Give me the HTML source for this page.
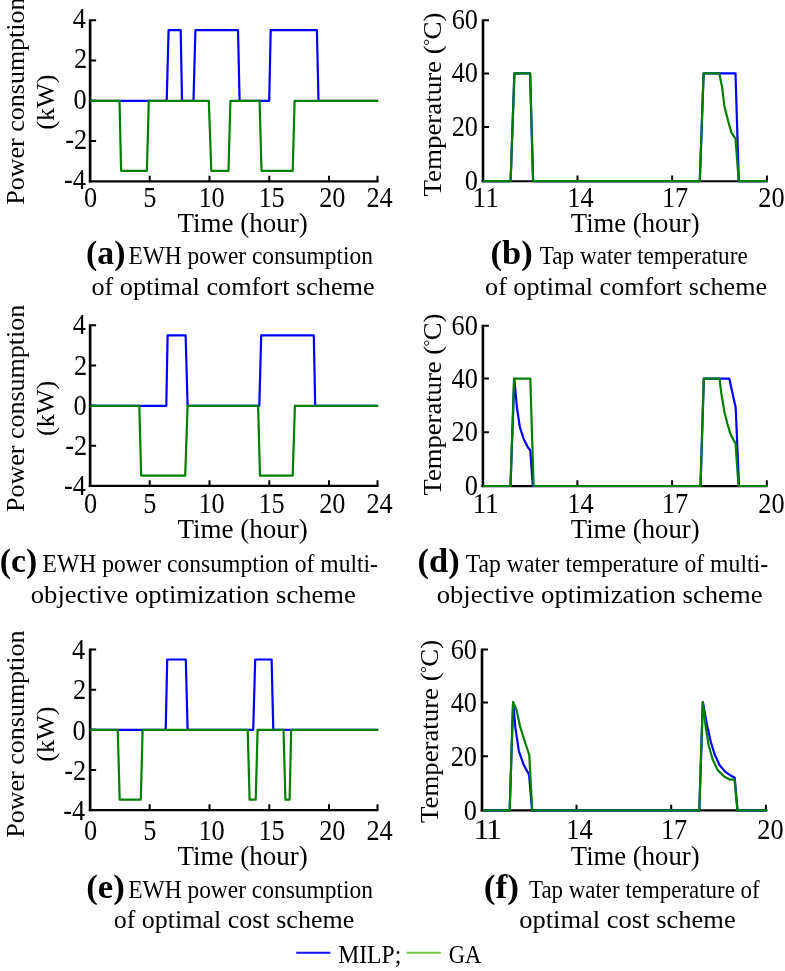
<!DOCTYPE html>
<html><head><meta charset="utf-8"><title>EWH scheduling results</title>
<style>
html,body{margin:0;padding:0;background:#fff;}
body{width:785px;height:971px;overflow:hidden;}
svg{display:block;}
svg text{font-family:"Liberation Serif","DejaVu Serif",serif;fill:#000;}
</style></head><body>
<svg width="785" height="971" viewBox="0 0 785 971">
<rect width="785" height="971" fill="#fff"/>
<path d="M90.1,19.30 V182.45" fill="none" stroke="#000" stroke-width="2.6"/>
<path d="M88.80,181.4 H378.50" fill="none" stroke="#000" stroke-width="2.1"/>
<path d="M149.7,181.4 v-5.75 M209.5,181.4 v-5.75 M269.3,181.4 v-5.75 M329.0,181.4 v-5.75 M377.5,181.4 v-5.75 M90.1,20.3 h6.00 M90.1,60.5 h6.00 M90.1,100.7 h6.00 M90.1,141.0 h6.00 " fill="none" stroke="#000" stroke-width="2.0"/>
<path d="M90.0,100.8 L166.7,100.8 L168.6,30.1 L180.7,30.1 L182.0,100.8 L193.5,100.8 L195.4,30.1 L238.0,30.1 L239.6,100.8 L269.2,100.8 L270.7,30.1 L316.9,30.1 L318.5,100.8 L377.6,100.8" fill="none" stroke="#0000ff" stroke-width="2.2" stroke-linejoin="round"/>
<path d="M90.0,100.8 L119.5,100.8 L121.1,170.8 L146.9,170.8 L148.8,100.8 L208.8,100.8 L211.3,170.8 L228.5,170.8 L230.4,100.8 L259.6,100.8 L261.5,170.8 L292.7,170.8 L294.6,100.8 L378.3,100.8" fill="none" stroke="#008000" stroke-width="2.2" stroke-linejoin="round"/>
<text x="72.86" y="28.20" font-size="28.6" textLength="13.16" lengthAdjust="spacingAndGlyphs">4</text>
<text x="73.90" y="68.40" font-size="28.6" textLength="13.16" lengthAdjust="spacingAndGlyphs">2</text>
<text x="73.45" y="108.60" font-size="28.6" textLength="13.16" lengthAdjust="spacingAndGlyphs">0</text>
<text x="65.13" y="148.90" font-size="28.6" textLength="21.92" lengthAdjust="spacingAndGlyphs">-2</text>
<text x="64.09" y="189.30" font-size="28.6" textLength="21.92" lengthAdjust="spacingAndGlyphs">-4</text>
<text x="84.02" y="206.80" font-size="28.6" textLength="13.16" lengthAdjust="spacingAndGlyphs">0</text>
<text x="143.17" y="206.80" font-size="28.6" textLength="13.16" lengthAdjust="spacingAndGlyphs">5</text>
<text x="198.44" y="206.80" font-size="28.6" textLength="26.31" lengthAdjust="spacingAndGlyphs">10</text>
<text x="258.40" y="206.80" font-size="28.6" textLength="26.31" lengthAdjust="spacingAndGlyphs">15</text>
<text x="319.22" y="206.80" font-size="28.6" textLength="26.31" lengthAdjust="spacingAndGlyphs">20</text>
<text x="366.42" y="206.80" font-size="28.6" textLength="26.31" lengthAdjust="spacingAndGlyphs">24</text>
<text x="177.52" y="231.90" font-size="27" textLength="130.26" lengthAdjust="spacingAndGlyphs">Time (hour)</text>
<path d="M90.1,324.30 V486.95" fill="none" stroke="#000" stroke-width="2.6"/>
<path d="M88.80,485.9 H378.50" fill="none" stroke="#000" stroke-width="2.1"/>
<path d="M149.7,485.9 v-5.75 M209.5,485.9 v-5.75 M269.3,485.9 v-5.75 M329.0,485.9 v-5.75 M377.5,485.9 v-5.75 M90.1,325.3 h6.00 M90.1,365.5 h6.00 M90.1,405.7 h6.00 M90.1,445.8 h6.00 " fill="none" stroke="#000" stroke-width="2.0"/>
<path d="M90.0,405.8 L166.3,405.8 L167.6,335.3 L185.6,335.3 L187.6,405.8 L259.3,405.8 L261.2,335.3 L313.8,335.3 L315.2,405.8 L377.6,405.8" fill="none" stroke="#0000ff" stroke-width="2.2" stroke-linejoin="round"/>
<path d="M90.0,405.8 L139.3,405.8 L141.2,475.6 L185.2,475.6 L187.6,405.8 L258.1,405.8 L260.0,475.6 L292.7,475.6 L294.9,405.8 L378.3,405.8" fill="none" stroke="#008000" stroke-width="2.2" stroke-linejoin="round"/>
<text x="72.86" y="334.30" font-size="28.6" textLength="13.16" lengthAdjust="spacingAndGlyphs">4</text>
<text x="73.90" y="374.50" font-size="28.6" textLength="13.16" lengthAdjust="spacingAndGlyphs">2</text>
<text x="73.45" y="414.70" font-size="28.6" textLength="13.16" lengthAdjust="spacingAndGlyphs">0</text>
<text x="65.13" y="454.80" font-size="28.6" textLength="21.92" lengthAdjust="spacingAndGlyphs">-2</text>
<text x="64.09" y="494.90" font-size="28.6" textLength="21.92" lengthAdjust="spacingAndGlyphs">-4</text>
<text x="84.02" y="512.80" font-size="28.6" textLength="13.16" lengthAdjust="spacingAndGlyphs">0</text>
<text x="143.17" y="512.80" font-size="28.6" textLength="13.16" lengthAdjust="spacingAndGlyphs">5</text>
<text x="198.44" y="512.80" font-size="28.6" textLength="26.31" lengthAdjust="spacingAndGlyphs">10</text>
<text x="258.40" y="512.80" font-size="28.6" textLength="26.31" lengthAdjust="spacingAndGlyphs">15</text>
<text x="319.22" y="512.80" font-size="28.6" textLength="26.31" lengthAdjust="spacingAndGlyphs">20</text>
<text x="366.42" y="512.80" font-size="28.6" textLength="26.31" lengthAdjust="spacingAndGlyphs">24</text>
<text x="177.52" y="538.20" font-size="27" textLength="130.26" lengthAdjust="spacingAndGlyphs">Time (hour)</text>
<path d="M90.1,648.60 V811.15" fill="none" stroke="#000" stroke-width="2.6"/>
<path d="M88.80,810.1 H378.50" fill="none" stroke="#000" stroke-width="2.1"/>
<path d="M149.7,810.1 v-5.75 M209.5,810.1 v-5.75 M269.3,810.1 v-5.75 M329.0,810.1 v-5.75 M377.5,810.1 v-5.75 M90.1,649.6 h6.00 M90.1,689.7 h6.00 M90.1,729.8 h6.00 M90.1,770.0 h6.00 " fill="none" stroke="#000" stroke-width="2.0"/>
<path d="M90.0,729.9 L165.7,729.9 L167.2,659.5 L185.8,659.5 L187.6,729.9 L253.2,729.9 L255.2,659.5 L271.6,659.5 L273.3,729.9 L377.6,729.9" fill="none" stroke="#0000ff" stroke-width="2.2" stroke-linejoin="round"/>
<path d="M90.0,729.9 L117.7,729.9 L119.7,799.6 L140.8,799.6 L142.6,729.9 L247.7,729.9 L249.6,799.6 L255.7,799.6 L257.6,729.9 L283.5,729.9 L285.4,799.6 L289.6,799.6 L291.2,729.9 L378.3,729.9" fill="none" stroke="#008000" stroke-width="2.2" stroke-linejoin="round"/>
<text x="71.96" y="659.30" font-size="28.6" textLength="13.16" lengthAdjust="spacingAndGlyphs">4</text>
<text x="73.00" y="699.40" font-size="28.6" textLength="13.16" lengthAdjust="spacingAndGlyphs">2</text>
<text x="72.55" y="739.50" font-size="28.6" textLength="13.16" lengthAdjust="spacingAndGlyphs">0</text>
<text x="64.23" y="779.70" font-size="28.6" textLength="21.92" lengthAdjust="spacingAndGlyphs">-2</text>
<text x="63.19" y="819.80" font-size="28.6" textLength="21.92" lengthAdjust="spacingAndGlyphs">-4</text>
<text x="84.02" y="839.80" font-size="28.6" textLength="13.16" lengthAdjust="spacingAndGlyphs">0</text>
<text x="143.17" y="839.80" font-size="28.6" textLength="13.16" lengthAdjust="spacingAndGlyphs">5</text>
<text x="198.44" y="839.80" font-size="28.6" textLength="26.31" lengthAdjust="spacingAndGlyphs">10</text>
<text x="258.40" y="839.80" font-size="28.6" textLength="26.31" lengthAdjust="spacingAndGlyphs">15</text>
<text x="319.22" y="839.80" font-size="28.6" textLength="26.31" lengthAdjust="spacingAndGlyphs">20</text>
<text x="366.42" y="839.80" font-size="28.6" textLength="26.31" lengthAdjust="spacingAndGlyphs">24</text>
<text x="177.52" y="864.60" font-size="27" textLength="130.26" lengthAdjust="spacingAndGlyphs">Time (hour)</text>
<text transform="translate(24.40,204.70) rotate(-90)" font-size="26">Power consumption</text>
<text transform="translate(54.30,129.80) rotate(-90)" font-size="26" textLength="55.41" lengthAdjust="spacingAndGlyphs">(kW)</text>
<text transform="translate(24.40,512.05) rotate(-90)" font-size="26">Power consumption</text>
<text transform="translate(54.30,436.05) rotate(-90)" font-size="26" textLength="55.41" lengthAdjust="spacingAndGlyphs">(kW)</text>
<text transform="translate(24.40,837.70) rotate(-90)" font-size="26">Power consumption</text>
<text transform="translate(54.30,761.80) rotate(-90)" font-size="26" textLength="55.41" lengthAdjust="spacingAndGlyphs">(kW)</text>
<path d="M483.0,19.30 V182.25" fill="none" stroke="#000" stroke-width="2.6"/>
<path d="M481.70,181.2 H767.70" fill="none" stroke="#000" stroke-width="2.1"/>
<path d="M577.5,181.2 v-5.75 M672.2,181.2 v-5.75 M766.9000000000001,181.2 v-5.75 M483.0,20.3 h6.00 M483.0,73.6 h6.00 M483.0,127.0 h6.00 " fill="none" stroke="#000" stroke-width="2.0"/>
<path d="M483.0,181.2 L510.6,181.2 L514.4,73.4 L530.1,73.4 L533.1,181.2 L699.8,181.2 L703.6,73.4 L735.5,73.4 L738.8,181.2 L767.0,181.2" fill="none" stroke="#0000ff" stroke-width="2.2" stroke-linejoin="round"/>
<path d="M483.0,181.2 L510.6,181.2 L514.4,73.4 L530.1,73.4 L533.1,181.2 L699.8,181.2 L703.6,73.4 L719.3,73.4 L722.1,87.1 L724.3,105.7 L728.0,120.5 L731.4,132.6 L735.5,138.7 L738.8,181.2 L767.6,181.2" fill="none" stroke="#008000" stroke-width="2.2" stroke-linejoin="round"/>
<text x="451.69" y="29.00" font-size="28.6" textLength="26.31" lengthAdjust="spacingAndGlyphs">60</text>
<text x="451.69" y="82.30" font-size="28.6" textLength="26.31" lengthAdjust="spacingAndGlyphs">40</text>
<text x="451.69" y="135.70" font-size="28.6" textLength="26.31" lengthAdjust="spacingAndGlyphs">20</text>
<text x="464.85" y="189.90" font-size="28.6" textLength="13.16" lengthAdjust="spacingAndGlyphs">0</text>
<text x="472.58" y="207.10" font-size="28.6" textLength="26.31" lengthAdjust="spacingAndGlyphs">11</text>
<text x="567.34" y="207.10" font-size="28.6" textLength="26.31" lengthAdjust="spacingAndGlyphs">14</text>
<text x="661.97" y="207.10" font-size="28.6" textLength="26.31" lengthAdjust="spacingAndGlyphs">17</text>
<text x="758.37" y="207.10" font-size="28.6" textLength="26.31" lengthAdjust="spacingAndGlyphs">20</text>
<text x="570.82" y="231.80" font-size="27" textLength="128.74" lengthAdjust="spacingAndGlyphs">Time (hour)</text>
<text transform="translate(440.80,196.48) rotate(-90)" font-size="26" textLength="183.95" lengthAdjust="spacingAndGlyphs">Temperature (<tspan font-size="17" dy="-6.2" dx="-0.6">°</tspan><tspan dy="6.2" dx="-0.6">C)</tspan></text>
<path d="M482.9,324.70 V487.15" fill="none" stroke="#000" stroke-width="2.6"/>
<path d="M481.60,486.1 H767.60" fill="none" stroke="#000" stroke-width="2.1"/>
<path d="M577.4,486.1 v-5.75 M672.1,486.1 v-5.75 M766.8000000000001,486.1 v-5.75 M482.9,325.7 h6.00 M482.9,378.5 h6.00 M482.9,432.3 h6.00 " fill="none" stroke="#000" stroke-width="2.0"/>
<path d="M483.0,486.0 L510.5,486.0 L514.3,378.6 L517.0,407.8 L519.9,427.4 L523.8,439.2 L527.7,447.0 L530.3,450.5 L532.8,486.0 L700.5,486.0 L703.8,378.6 L729.3,378.6 L735.7,407.8 L739.0,486.0 L767.0,486.0" fill="none" stroke="#0000ff" stroke-width="2.2" stroke-linejoin="round"/>
<path d="M483.0,486.0 L510.5,486.0 L514.0,378.6 L530.3,378.6 L533.6,486.0 L700.5,486.0 L703.8,378.6 L719.5,378.6 L721.4,394.1 L724.4,411.8 L727.3,423.5 L730.2,433.3 L733.2,439.4 L735.5,443.1 L738.5,486.0 L767.6,486.0" fill="none" stroke="#008000" stroke-width="2.2" stroke-linejoin="round"/>
<text x="451.59" y="334.80" font-size="28.6" textLength="26.31" lengthAdjust="spacingAndGlyphs">60</text>
<text x="451.59" y="387.60" font-size="28.6" textLength="26.31" lengthAdjust="spacingAndGlyphs">40</text>
<text x="451.59" y="441.40" font-size="28.6" textLength="26.31" lengthAdjust="spacingAndGlyphs">20</text>
<text x="464.75" y="495.20" font-size="28.6" textLength="13.16" lengthAdjust="spacingAndGlyphs">0</text>
<text x="472.48" y="512.60" font-size="28.6" textLength="26.31" lengthAdjust="spacingAndGlyphs">11</text>
<text x="567.24" y="512.60" font-size="28.6" textLength="26.31" lengthAdjust="spacingAndGlyphs">14</text>
<text x="661.87" y="512.60" font-size="28.6" textLength="26.31" lengthAdjust="spacingAndGlyphs">17</text>
<text x="758.27" y="512.60" font-size="28.6" textLength="26.31" lengthAdjust="spacingAndGlyphs">20</text>
<text x="570.82" y="537.80" font-size="27" textLength="128.74" lengthAdjust="spacingAndGlyphs">Time (hour)</text>
<text transform="translate(440.70,495.48) rotate(-90)" font-size="26" textLength="181.93" lengthAdjust="spacingAndGlyphs">Temperature (<tspan font-size="17" dy="-6.2" dx="-0.6">°</tspan><tspan dy="6.2" dx="-0.6">C)</tspan></text>
<path d="M482.0,648.60 V811.45" fill="none" stroke="#000" stroke-width="2.6"/>
<path d="M480.70,810.4 H766.70" fill="none" stroke="#000" stroke-width="2.1"/>
<path d="M576.5,810.4 v-5.75 M671.2,810.4 v-5.75 M765.9000000000001,810.4 v-5.75 M482.0,649.6 h6.00 M482.0,702.4 h6.00 M482.0,756.2 h6.00 " fill="none" stroke="#000" stroke-width="2.0"/>
<path d="M483.0,810.4 L509.7,810.4 L513.1,702.0 L515.4,727.8 L518.9,751.3 L523.8,765.0 L529.1,774.8 L532.1,810.4 L699.3,810.4 L702.8,702.0 L706.8,723.9 L710.7,741.5 L714.6,754.3 L719.5,765.0 L725.3,771.9 L730.2,775.2 L734.7,777.7 L737.5,810.4 L767.0,810.4" fill="none" stroke="#0000ff" stroke-width="2.2" stroke-linejoin="round"/>
<path d="M483.0,810.4 L509.7,810.4 L513.1,702.0 L516.6,710.2 L519.9,725.9 L524.8,741.5 L529.3,755.2 L532.2,810.4 L699.3,810.4 L702.8,702.0 L705.8,727.8 L708.7,745.5 L712.6,759.2 L717.5,769.9 L724.4,776.8 L730.2,779.7 L734.5,779.7 L737.5,810.4 L767.6,810.4" fill="none" stroke="#008000" stroke-width="2.2" stroke-linejoin="round"/>
<text x="450.69" y="659.10" font-size="28.6" textLength="26.31" lengthAdjust="spacingAndGlyphs">60</text>
<text x="450.69" y="711.90" font-size="28.6" textLength="26.31" lengthAdjust="spacingAndGlyphs">40</text>
<text x="450.69" y="765.70" font-size="28.6" textLength="26.31" lengthAdjust="spacingAndGlyphs">20</text>
<text x="463.85" y="819.90" font-size="28.6" textLength="13.16" lengthAdjust="spacingAndGlyphs">0</text>
<text x="473.29" y="838.90" font-size="28.6" textLength="26.31" lengthAdjust="spacingAndGlyphs" letter-spacing="-2.3">11</text>
<text x="566.34" y="838.90" font-size="28.6" textLength="26.31" lengthAdjust="spacingAndGlyphs">14</text>
<text x="660.97" y="838.90" font-size="28.6" textLength="26.31" lengthAdjust="spacingAndGlyphs">17</text>
<text x="757.37" y="838.90" font-size="28.6" textLength="26.31" lengthAdjust="spacingAndGlyphs">20</text>
<text x="570.82" y="864.60" font-size="27" textLength="128.74" lengthAdjust="spacingAndGlyphs">Time (hour)</text>
<text transform="translate(437.80,822.98) rotate(-90)" font-size="26" textLength="183.14" lengthAdjust="spacingAndGlyphs">Temperature (<tspan font-size="17" dy="-6.2" dx="-0.6">°</tspan><tspan dy="6.2" dx="-0.6">C)</tspan></text>
<text x="86.12" y="263.80" font-size="34" font-weight="bold" textLength="39.37" lengthAdjust="spacingAndGlyphs">(a)</text>
<text x="128.43" y="263.80" font-size="24.5" textLength="244.43" lengthAdjust="spacingAndGlyphs">EWH power consumption</text>
<text x="91.40" y="294.50" font-size="26" textLength="283.21" lengthAdjust="spacingAndGlyphs">of optimal comfort scheme</text>
<text x="490.59" y="264.20" font-size="34" font-weight="bold" textLength="42.13" lengthAdjust="spacingAndGlyphs">(b)</text>
<text x="539.78" y="263.70" font-size="24.5" textLength="207.91" lengthAdjust="spacingAndGlyphs">Tap water temperature</text>
<text x="485.11" y="294.50" font-size="26" textLength="281.90" lengthAdjust="spacingAndGlyphs">of optimal comfort scheme</text>
<text x="-0.18" y="571.80" font-size="34" font-weight="bold" textLength="37.36" lengthAdjust="spacingAndGlyphs">(c)</text>
<text x="42.62" y="571.80" font-size="24.5" textLength="335.33" lengthAdjust="spacingAndGlyphs">EWH power consumption of multi-</text>
<text x="30.79" y="603.10" font-size="26" textLength="325.04" lengthAdjust="spacingAndGlyphs">objective optimization scheme</text>
<text x="417.59" y="571.80" font-size="34" font-weight="bold" textLength="42.02" lengthAdjust="spacingAndGlyphs">(d)</text>
<text x="465.77" y="571.80" font-size="24.5" textLength="302.28" lengthAdjust="spacingAndGlyphs">Tap water temperature of multi-</text>
<text x="436.68" y="603.10" font-size="26" textLength="325.84" lengthAdjust="spacingAndGlyphs">objective optimization scheme</text>
<text x="86.17" y="897.50" font-size="34" font-weight="bold" textLength="38.55" lengthAdjust="spacingAndGlyphs">(e)</text>
<text x="128.23" y="897.50" font-size="24.5" textLength="244.63" lengthAdjust="spacingAndGlyphs">EWH power consumption</text>
<text x="113.71" y="928.10" font-size="26" textLength="240.49" lengthAdjust="spacingAndGlyphs">of optimal cost scheme</text>
<text x="483.65" y="897.90" font-size="34" font-weight="bold" textLength="35.31" lengthAdjust="spacingAndGlyphs">(f)</text>
<text x="528.99" y="897.90" font-size="24.5" textLength="230.71" lengthAdjust="spacingAndGlyphs">Tap water temperature of</text>
<text x="519.19" y="928.40" font-size="26" textLength="216.53" lengthAdjust="spacingAndGlyphs">optimal cost scheme</text>
<path d="M296.2,952.7 H330.4" stroke="#1414f4" stroke-width="2.1"/>
<path d="M406.6,952.7 H440.8" stroke="#74c644" stroke-width="2.1"/>
<text x="338.22" y="962.80" font-size="24.5" textLength="62.99" lengthAdjust="spacingAndGlyphs">MILP;</text>
<text x="448.68" y="962.80" font-size="24.5" textLength="32.49" lengthAdjust="spacingAndGlyphs">GA</text>
</svg>
</body></html>
